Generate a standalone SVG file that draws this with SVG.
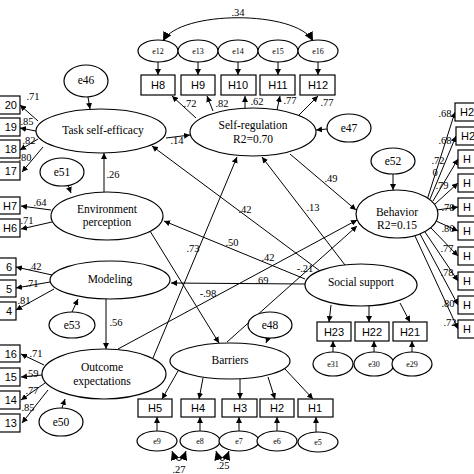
<svg xmlns="http://www.w3.org/2000/svg" width="474" height="474" viewBox="0 0 474 474">
<defs>
<marker id="ah" viewBox="0 0 10 10" refX="10" refY="5" markerWidth="6" markerHeight="6" orient="auto-start-reverse" markerUnits="userSpaceOnUse"><path d="M0,0 L10,5 L0,10 z" fill="#000"/></marker>
<marker id="ahb" viewBox="0 0 10 10" refX="10" refY="5" markerWidth="9" markerHeight="9" orient="auto-start-reverse" markerUnits="userSpaceOnUse"><path d="M0,0 L10,5 L0,10 z" fill="#000"/></marker>
</defs>
<style>
.lat{fill:#fff;stroke:#000;stroke-width:1.2}
.err{fill:#fff;stroke:#000;stroke-width:1.2}
.box{fill:#fff;stroke:#000;stroke-width:1.2}
.ln{fill:none;stroke:#000;stroke-width:1;marker-end:url(#ah)}
.ln2{fill:none;stroke:#000;stroke-width:1;marker-end:url(#ahb);marker-start:url(#ahb)}
.t{font-family:"Liberation Serif",serif;font-size:11.5px;text-anchor:middle;fill:#000}
.te{font-family:"Liberation Serif",serif;font-size:8px;text-anchor:middle;fill:#000}
.tb{font-family:"Liberation Sans",Arial,sans-serif;font-size:11px;text-anchor:middle;fill:#000}
.tl{font-family:"Liberation Sans",Arial,sans-serif;font-size:11px;text-anchor:end;fill:#000}
.tr{font-family:"Liberation Sans",Arial,sans-serif;font-size:11px;text-anchor:start;fill:#000}
.c{font-family:"Liberation Serif",serif;font-size:10.5px;text-anchor:middle;fill:#000}
</style>
<rect width="474" height="474" fill="#fff"/>

<g id="connectors">
<path class="ln2" d="M163,41 C180,10 296,10 313,41"/>
<path class="ln2" d="M172,451 Q179,470 186,451"/>
<path class="ln2" d="M216,451 Q222,470 229,451"/>
<path class="ln" d="M158,62 L158,75"/>
<path class="ln" d="M198,62 L198,75"/>
<path class="ln" d="M238,62 L238,75"/>
<path class="ln" d="M278,62 L278,75"/>
<path class="ln" d="M318,62 L318,75"/>
<path class="ln" d="M196,118 L172,96"/>
<path class="ln" d="M213,111 L207,96"/>
<path class="ln" d="M245,109 L245,96"/>
<path class="ln" d="M277,110 L280,96"/>
<path class="ln" d="M298,116 L318,96"/>
<path class="ln" d="M38,121 L20,105"/>
<path class="ln" d="M36,131 L20,128"/>
<path class="ln" d="M38,139 L20,150"/>
<path class="ln" d="M43,147 L22,172"/>
<path class="ln" d="M51,210 L21,206"/>
<path class="ln" d="M52,222 L21,229"/>
<path class="ln" d="M52,275 L16,267"/>
<path class="ln" d="M50,282 L16,288"/>
<path class="ln" d="M54,289 L16,310"/>
<path class="ln" d="M44,365 L21,354"/>
<path class="ln" d="M42,375 L21,377"/>
<path class="ln" d="M45,383 L21,400"/>
<path class="ln" d="M48,390 L22,423"/>
<path class="ln" d="M178,371 L162,399"/>
<path class="ln" d="M203,378 L199,399"/>
<path class="ln" d="M240,379 L240,399"/>
<path class="ln" d="M268,377 L275,399"/>
<path class="ln" d="M285,369 L313,399"/>
<path class="ln" d="M157,431 L157,417"/>
<path class="ln" d="M200,431 L200,417"/>
<path class="ln" d="M239,431 L239,417"/>
<path class="ln" d="M277,431 L277,417"/>
<path class="ln" d="M316,432 L316,417"/>
<path class="ln" d="M331,305 L329,322"/>
<path class="ln" d="M369,306 L369,322"/>
<path class="ln" d="M400,303 L410,322"/>
<path class="ln" d="M333,352 L333,341"/>
<path class="ln" d="M374,352 L374,341"/>
<path class="ln" d="M412,352 L412,341"/>
<path class="ln" d="M427,200 L455,112"/>
<path class="ln" d="M430,199 L456,136"/>
<path class="ln" d="M433,201 L458,159"/>
<path class="ln" d="M435,204 L458,183"/>
<path class="ln" d="M437,210 L458,207"/>
<path class="ln" d="M436,221 L458,231"/>
<path class="ln" d="M431,228 L458,256"/>
<path class="ln" d="M425,232 L458,281"/>
<path class="ln" d="M420,234 L458,305"/>
<path class="ln" d="M415,236 L458,329"/>
<path class="ln" d="M88,97 L90,109"/>
<path class="ln" d="M327,129 L316,130"/>
<path class="ln" d="M68,185 L71,193"/>
<path class="ln" d="M393,174 L393,190"/>
<path class="ln" d="M72,312 L78,299"/>
<path class="ln" d="M62,408 L65,399"/>
<path class="ln" d="M268,338 L266,343"/>
<path class="ln" d="M166,138 L190,135"/>
<path class="ln" d="M104,192 L104,153"/>
<path class="ln" d="M106,299 L106,349"/>
<path class="ln" d="M290,154 L356,210"/>
<path class="ln" d="M345,265 L262,157"/>
<path class="ln" d="M320,271 L152,146"/>
<path class="ln" d="M153,358 L237,157"/>
<path class="ln" d="M305,279 L164,221"/>
<path class="ln" d="M305,284 L171,283"/>
<path class="ln" d="M118,349 L357,220"/>
<path class="ln" d="M227,342 L357,226"/>
<path class="ln" d="M150,231 L219,343"/>
</g>

<g id="tse"><ellipse class="lat" cx="101" cy="131" rx="65" ry="22"/><text class="t" x="103" y="134">Task self-efficacy</text></g>
<g id="sr"><ellipse class="lat" cx="253" cy="132" rx="63" ry="24"/><text class="t" x="253" y="129">Self-regulation</text><text class="t" x="253" y="143">R2=0.70</text></g>
<g id="ep"><ellipse class="lat" cx="107" cy="216" rx="56" ry="24"/><text class="t" x="107" y="213">Environment</text><text class="t" x="107" y="226">perception</text></g>
<g id="mod"><ellipse class="lat" cx="110" cy="280" rx="60" ry="19"/><text class="t" x="110" y="283">Modeling</text></g>
<g id="oe"><ellipse class="lat" cx="104" cy="374" rx="62" ry="25"/><text class="t" x="102" y="371">Outcome</text><text class="t" x="102" y="385">expectations</text></g>
<g id="bar"><ellipse class="lat" cx="230" cy="361" rx="60" ry="18"/><text class="t" x="230" y="364">Barriers</text></g>
<g id="beh"><ellipse class="lat" cx="397" cy="214" rx="41" ry="24"/><text class="t" x="397" y="216">Behavior</text><text class="t" x="397" y="229">R2=0.15</text></g>
<g id="ss"><ellipse class="lat" cx="361" cy="285" rx="56" ry="21"/><text class="t" x="361" y="286">Social support</text></g>

<g id="e46"><ellipse class="err" cx="86" cy="81" rx="22" ry="16"/><text class="t" x="86" y="84">e46</text></g>
<g id="e47"><ellipse class="err" cx="349" cy="128" rx="22" ry="14"/><text class="t" x="349" y="132">e47</text></g>
<g id="e51"><ellipse class="err" cx="62" cy="172" rx="22" ry="14"/><text class="t" x="62" y="176">e51</text></g>
<g id="e52"><ellipse class="err" cx="393" cy="161" rx="22" ry="13"/><text class="t" x="393" y="165">e52</text></g>
<g id="e53"><ellipse class="err" cx="72" cy="325" rx="23" ry="13"/><text class="t" x="72" y="329">e53</text></g>
<g id="e50"><ellipse class="err" cx="61" cy="422" rx="22" ry="14"/><text class="t" x="61" y="426">e50</text></g>
<g id="e48"><ellipse class="err" cx="270" cy="325" rx="22" ry="13"/><text class="t" x="270" y="329">e48</text></g>

<g id="e12"><ellipse class="err" cx="158" cy="51" rx="20" ry="11"/><text class="te" x="158" y="54">e12</text></g>
<g id="e13"><ellipse class="err" cx="198" cy="51" rx="20" ry="11"/><text class="te" x="198" y="54">e13</text></g>
<g id="e14"><ellipse class="err" cx="238" cy="51" rx="20" ry="11"/><text class="te" x="238" y="54">e14</text></g>
<g id="e15"><ellipse class="err" cx="278" cy="51" rx="20" ry="11"/><text class="te" x="278" y="54">e15</text></g>
<g id="e16"><ellipse class="err" cx="318" cy="51" rx="20" ry="11"/><text class="te" x="318" y="54">e16</text></g>
<g id="H8"><rect class="box" x="141" y="75" width="34" height="20"/><text class="tb" x="158" y="89">H8</text></g>
<g id="H9"><rect class="box" x="181" y="75" width="34" height="20"/><text class="tb" x="198" y="89">H9</text></g>
<g id="H10"><rect class="box" x="221" y="75" width="35" height="20"/><text class="tb" x="238" y="89">H10</text></g>
<g id="H11"><rect class="box" x="260" y="75" width="35" height="20"/><text class="tb" x="278" y="89">H11</text></g>
<g id="H12"><rect class="box" x="300" y="75" width="35" height="20"/><text class="tb" x="318" y="89">H12</text></g>

<g id="H20"><rect class="box" x="-20" y="96" width="40" height="18"/><text class="tl" x="17" y="109">20</text></g>
<g id="H19"><rect class="box" x="-20" y="118" width="40" height="18"/><text class="tl" x="17" y="131">19</text></g>
<g id="H18"><rect class="box" x="-20" y="140" width="40" height="18"/><text class="tl" x="17" y="153">18</text></g>
<g id="H17"><rect class="box" x="-20" y="162" width="40" height="18"/><text class="tl" x="17" y="175">17</text></g>
<g id="H7"><rect class="box" x="-20" y="197" width="40" height="17"/><text class="tl" x="17" y="210">H7</text></g>
<g id="H6"><rect class="box" x="-20" y="219" width="40" height="18"/><text class="tl" x="17" y="232">H6</text></g>
<g id="M6"><rect class="box" x="-20" y="258" width="36" height="17"/><text class="tl" x="12" y="271">6</text></g>
<g id="M5"><rect class="box" x="-20" y="280" width="36" height="17"/><text class="tl" x="12" y="293">5</text></g>
<g id="M4"><rect class="box" x="-20" y="302" width="36" height="18"/><text class="tl" x="12" y="315">4</text></g>
<g id="H16"><rect class="box" x="-20" y="345" width="40" height="17"/><text class="tl" x="17" y="358">16</text></g>
<g id="H15"><rect class="box" x="-20" y="368" width="40" height="18"/><text class="tl" x="17" y="381">15</text></g>
<g id="H14"><rect class="box" x="-20" y="391" width="40" height="18"/><text class="tl" x="17" y="404">14</text></g>
<g id="H13"><rect class="box" x="-20" y="414" width="40" height="18"/><text class="tl" x="17" y="427">13</text></g>

<g id="B1"><rect class="box" x="455" y="103" width="40" height="18"/><text class="tr" x="460" y="116">H2</text></g>
<g id="B2"><rect class="box" x="456" y="127" width="40" height="18"/><text class="tr" x="461" y="140">H2</text></g>
<g id="B3"><rect class="box" x="458" y="150" width="40" height="18"/><text class="tr" x="463" y="163">H</text></g>
<g id="B4"><rect class="box" x="458" y="174" width="40" height="18"/><text class="tr" x="463" y="187">H</text></g>
<g id="B5"><rect class="box" x="458" y="198" width="40" height="18"/><text class="tr" x="463" y="211">H</text></g>
<g id="B6"><rect class="box" x="458" y="222" width="40" height="18"/><text class="tr" x="463" y="235">H</text></g>
<g id="B7"><rect class="box" x="458" y="247" width="40" height="18"/><text class="tr" x="463" y="260">H</text></g>
<g id="B8"><rect class="box" x="458" y="272" width="40" height="18"/><text class="tr" x="463" y="285">H</text></g>
<g id="B9"><rect class="box" x="458" y="296" width="40" height="18"/><text class="tr" x="463" y="309">H</text></g>
<g id="B10"><rect class="box" x="458" y="320" width="40" height="18"/><text class="tr" x="463" y="333">H</text></g>

<g id="H5"><rect class="box" x="138" y="399" width="34" height="18"/><text class="tb" x="155" y="412">H5</text></g>
<g id="H4"><rect class="box" x="181" y="399" width="34" height="18"/><text class="tb" x="198" y="412">H4</text></g>
<g id="H3"><rect class="box" x="222" y="399" width="35" height="18"/><text class="tb" x="240" y="412">H3</text></g>
<g id="H2"><rect class="box" x="260" y="399" width="34" height="18"/><text class="tb" x="277" y="412">H2</text></g>
<g id="H1"><rect class="box" x="298" y="399" width="35" height="18"/><text class="tb" x="315" y="412">H1</text></g>
<g id="e9"><ellipse class="err" cx="157" cy="441" rx="20" ry="10"/><text class="te" x="157" y="444">e9</text></g>
<g id="e8"><ellipse class="err" cx="200" cy="441" rx="20" ry="10"/><text class="te" x="200" y="444">e8</text></g>
<g id="e7"><ellipse class="err" cx="239" cy="441" rx="20" ry="10"/><text class="te" x="239" y="444">e7</text></g>
<g id="e6"><ellipse class="err" cx="277" cy="441" rx="20" ry="10"/><text class="te" x="277" y="444">e6</text></g>
<g id="e5"><ellipse class="err" cx="318" cy="442" rx="20" ry="10"/><text class="te" x="318" y="445">e5</text></g>

<g id="H23"><rect class="box" x="317" y="322" width="34" height="19"/><text class="tb" x="334" y="336">H23</text></g>
<g id="H22"><rect class="box" x="355" y="322" width="34" height="19"/><text class="tb" x="372" y="336">H22</text></g>
<g id="H21"><rect class="box" x="393" y="322" width="34" height="19"/><text class="tb" x="410" y="336">H21</text></g>
<g id="e31"><ellipse class="err" cx="333" cy="364" rx="20" ry="12"/><text class="te" x="333" y="367">e31</text></g>
<g id="e30"><ellipse class="err" cx="374" cy="364" rx="20" ry="12"/><text class="te" x="374" y="367">e30</text></g>
<g id="e29"><ellipse class="err" cx="412" cy="364" rx="20" ry="12"/><text class="te" x="412" y="367">e29</text></g>

<g id="labels">
<text class="c" x="238" y="16">.34</text>
<text class="c" x="190" y="107">.72</text>
<text class="c" x="222" y="107">.82</text>
<text class="c" x="257" y="105">.62</text>
<text class="c" x="290" y="104">.77</text>
<text class="c" x="327" y="106">.77</text>
<text class="c" x="177" y="144">.14</text>
<text class="c" x="33" y="100">.71</text>
<text class="c" x="27" y="125">.85</text>
<text class="c" x="29" y="144">.82</text>
<text class="c" x="25" y="161">.80</text>
<text class="c" x="113" y="178">.26</text>
<text class="c" x="40" y="206">.64</text>
<text class="c" x="27" y="224">.71</text>
<text class="c" x="35" y="270">.42</text>
<text class="c" x="32" y="287">.71</text>
<text class="c" x="24" y="304">.81</text>
<text class="c" x="116" y="326">.56</text>
<text class="c" x="36" y="357">.71</text>
<text class="c" x="32" y="377">.59</text>
<text class="c" x="32" y="394">.77</text>
<text class="c" x="28" y="411">.85</text>
<text class="c" x="245" y="213">.42</text>
<text class="c" x="313" y="211">.13</text>
<text class="c" x="331" y="182">.49</text>
<text class="c" x="193" y="252">.73</text>
<text class="c" x="232" y="246">.50</text>
<text class="c" x="268" y="261">.42</text>
<text class="c" x="305" y="272">-.21</text>
<text class="c" x="262" y="284">.69</text>
<text class="c" x="208" y="297">-.98</text>
<text class="c" x="445" y="117">.68</text>
<text class="c" x="445" y="144">.68</text>
<text class="c" x="438" y="164">.72</text>
<text class="c" x="435" y="176">0</text>
<text class="c" x="442" y="189">.79</text>
<text class="c" x="448" y="211">.78</text>
<text class="c" x="448" y="232">.80</text>
<text class="c" x="447" y="252">.77</text>
<text class="c" x="447" y="276">.78</text>
<text class="c" x="448" y="307">.80</text>
<text class="c" x="450" y="326">.72</text>
<text class="c" x="179" y="473">.27</text>
<text class="c" x="223" y="469">.25</text>
</g>
</svg>
